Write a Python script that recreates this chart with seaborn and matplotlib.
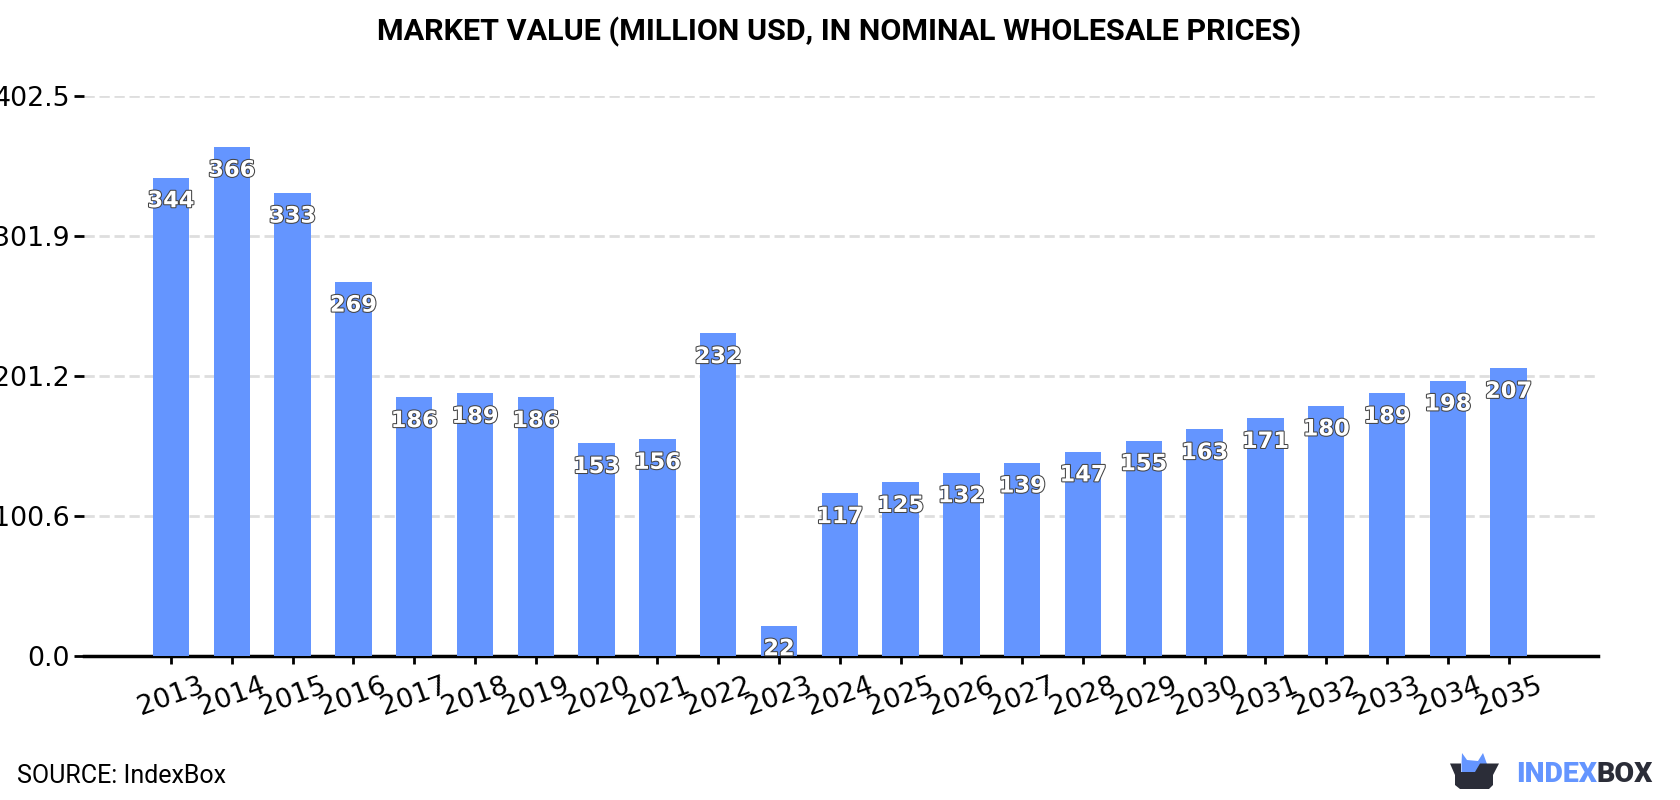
import matplotlib
matplotlib.use("Agg")
import matplotlib.pyplot as plt
import matplotlib.patheffects as pe
from matplotlib.patches import Polygon
import pandas as pd
import seaborn as sns

years = [2013, 2014, 2015, 2016, 2017, 2018, 2019, 2020, 2021, 2022, 2023, 2024,
         2025, 2026, 2027, 2028, 2029, 2030, 2031, 2032, 2033, 2034, 2035]
values = [344, 366, 333, 269, 186, 189, 186, 153, 156, 232, 22, 117,
          125, 132, 139, 147, 155, 163, 171, 180, 189, 198, 207]
y_ticks = [0.0, 100.6, 201.2, 301.9, 402.5]

BLUE = "#6495FF"
DARK = "#2B2D38"

sns.set_theme(style="white")
plt.rcParams["font.family"] = ["DejaVu Sans"]

fig = plt.figure(figsize=(16.8, 8), dpi=100, facecolor="white")
ax = fig.add_axes([84 / 1680, 1 - 656.3 / 800, (1598 - 84) / 1680, (656.3 - 96.2) / 800])

df = pd.DataFrame({"year": [str(y) for y in years], "value": values})
sns.barplot(data=df, x="year", y="value", color=BLUE, saturation=1, width=0.6, ax=ax,
            zorder=3, edgecolor="none", linewidth=0)

ax.set_xlim(-1.43, 23.47)
ax.set_ylim(0, 402.5)
ax.set_xlabel("")
ax.set_ylabel("")
ax.set_yticks(y_ticks)
ax.set_yticklabels([f"{t:.1f}" for t in y_ticks], fontsize=19.3, color="black")
ax.tick_params(axis="y", length=7, width=2, color="black", pad=3, left=True)
ax.tick_params(axis="x", length=6, width=2, color="black", pad=6, bottom=True)
for lab in ax.get_xticklabels():
    lab.set_rotation(20)
    lab.set_fontsize(19.5)
    lab.set_color("black")
    lab.set_ha("center")

ax.grid(axis="y", color="#DEDEDE", linestyle=(0, (3.7, 1.7)), linewidth=2, zorder=0)
ax.set_axisbelow(True)
for side in ("top", "right", "left"):
    ax.spines[side].set_visible(False)
ax.spines["bottom"].set_color("black")
ax.spines["bottom"].set_linewidth(2.5)

# Value labels sit just inside the top of each bar
for i, v in enumerate(values):
    ax.annotate(str(v), (i, v), xytext=(0, -17), textcoords="offset points",
                ha="center", va="center", fontsize=16.2, fontweight="bold", color="white",
                zorder=5,
                path_effects=[pe.withStroke(linewidth=1.5, foreground="#444444")])

fig.text(0.4995, 1 - 32 / 800, "MARKET VALUE (MILLION USD, IN NOMINAL WHOLESALE PRICES)",
         family="Roboto", fontweight="bold", fontsize=21.95, color="black",
         ha="center", va="center")
fig.text(17 / 1680, 1 - 776 / 800, "SOURCE: IndexBox", family="Roboto", fontsize=18,
         color="black", ha="left", va="center")

# Brand mark in the lower right corner, laid out in pixel units
logo = fig.add_axes([0, 0, 1, 1], facecolor="none")
logo.set_xlim(0, 1680)
logo.set_ylim(800, 0)
logo.axis("off")
logo.add_patch(Polygon([(1461.5, 764), (1462, 753), (1467, 760), (1478, 761), (1483, 753),
                        (1487, 764), (1480, 772), (1461.5, 772)],
                       closed=True, facecolor=BLUE, edgecolor="none"))
logo.add_patch(Polygon([(1450, 763.5), (1461, 763.5), (1461, 772), (1475, 772), (1480, 763.5),
                        (1499, 763.5), (1493, 775), (1493, 785), (1489, 789), (1460, 789),
                        (1455, 785), (1455, 775)],
                       closed=True, facecolor=DARK, edgecolor="none"))
logo.text(1516, 775, "INDEX", family="Roboto", fontweight="black", fontsize=20.5,
          color=BLUE, ha="left", va="center")
logo.text(1597, 775, "BOX", family="Roboto", fontweight="black", fontsize=20.5,
          color=DARK, ha="left", va="center")

fig.savefig("out.png", dpi=100, facecolor="white")
